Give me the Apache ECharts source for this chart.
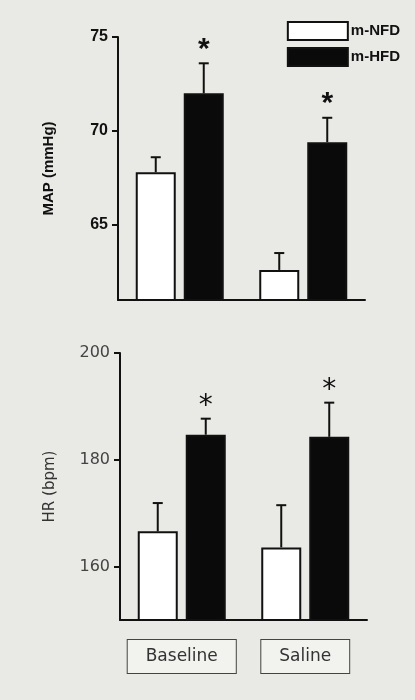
<!DOCTYPE html>
<html><head><meta charset="utf-8">
<script src="https://cdn.jsdelivr.net/npm/echarts@6/dist/echarts.min.js"></script>
<style>html,body{margin:0;background:#e9e9e5}#c{width:415px;height:700px}</style>
</head><body><div id="c"></div>
<script>
const categories = ['Baseline', 'Saline'];
const mapNFD = [67.8, 62.6];
const mapNFDErr = [68.6, 63.5];
const mapHFD = [72.0, 69.4];
const mapHFDErr = [73.6, 70.7];
const hrNFD = [166.6, 163.6];
const hrNFDErr = [171.9, 171.5];
const hrHFD = [184.7, 184.3];
const hrHFDErr = [187.7, 190.7];
const mapTicks = [65, 70, 75];
const hrTicks = [160, 180, 200];

const chart = echarts.init(document.getElementById('c'));
function errSeries(xi, yi, tops, means, off, star, starGap) {
  return {
    type: 'custom', xAxisIndex: xi, yAxisIndex: yi, z: 5,
    data: tops.map((t, i) => [i, t, means[i]]),
    renderItem: (p, api) => {
      const top = api.coord([api.value(0), api.value(1)]);
      const base = api.coord([api.value(0), api.value(2)]);
      const x = top[0] + off;
      const ch = [
        {type: 'line', shape: {x1: x, y1: top[1], x2: x, y2: base[1]}, style: {stroke: '#111', lineWidth: 2}},
        {type: 'line', shape: {x1: x - 5, y1: top[1], x2: x + 5, y2: top[1]}, style: {stroke: '#111', lineWidth: 2}}
      ];
      if (star) ch.push({type: 'text', style: {text: '*', x: x, y: top[1] - starGap, align: 'center', verticalAlign: 'middle', font: star, fill: '#111'}});
      return {type: 'group', children: ch};
    }
  };
}
const yBase = {type: 'value', splitLine: {show: false},
  axisLine: {show: true, lineStyle: {color: '#111', width: 2}}};
chart.setOption({
  animation: false,
  grid: [{left: 118, right: 50, top: 37, bottom: 400}, {left: 120, right: 48, top: 353, bottom: 80}],
  xAxis: [
    {type: 'category', gridIndex: 0, data: categories, axisTick: {show: false}, axisLabel: {show: false}, axisLine: {lineStyle: {color: '#111', width: 2}}},
    {type: 'category', gridIndex: 1, data: categories, axisTick: {show: false}, axisLine: {lineStyle: {color: '#111', width: 2}},
     axisLabel: {margin: 20, color: '#333', fontSize: 17, fontFamily: 'DejaVu Sans', borderColor: '#444', borderWidth: 1, padding: [8, 18, 8, 18], backgroundColor: '#f2f2ef'}}
  ],
  yAxis: [
    Object.assign({}, yBase, {gridIndex: 0, min: 61, max: 75, name: 'MAP (mmHg)', nameLocation: 'middle', nameGap: 62,
      nameTextStyle: {fontSize: 15, fontWeight: 'bold', color: '#111', fontFamily: 'Liberation Sans'},
      axisLabel: {customValues: mapTicks, margin: 10, fontSize: 16, fontWeight: 'bold', color: '#111', fontFamily: 'Liberation Sans'},
      axisTick: {show: true, customValues: mapTicks, length: 6, lineStyle: {color: '#111', width: 2}}}),
    Object.assign({}, yBase, {gridIndex: 1, min: 150, max: 200, name: 'HR (bpm)', nameLocation: 'middle', nameGap: 62,
      nameTextStyle: {fontSize: 15, color: '#333', fontFamily: 'DejaVu Sans'},
      axisLabel: {customValues: hrTicks, margin: 10, fontSize: 16, color: '#444', fontFamily: 'DejaVu Sans'},
      axisTick: {show: true, customValues: hrTicks, length: 6, lineStyle: {color: '#111', width: 2}}})
  ],
  legend: {right: 10, top: 16, orient: 'vertical', icon: 'rect', itemWidth: 60, itemHeight: 18, itemGap: 6,
    textStyle: {fontSize: 15, fontWeight: 'bold', color: '#111', fontFamily: 'Liberation Sans', padding: [0, 0, 0, -2]}, data: ['m-NFD', 'm-HFD']},
  series: [
    {name: 'm-NFD', type: 'bar', xAxisIndex: 0, yAxisIndex: 0, data: mapNFD, barWidth: 40, barGap: '20%', itemStyle: {color: '#fff', borderColor: '#111', borderWidth: 2}},
    {name: 'm-HFD', type: 'bar', xAxisIndex: 0, yAxisIndex: 0, data: mapHFD, barWidth: 40, barGap: '20%', itemStyle: {color: '#0a0a0a', borderColor: '#111', borderWidth: 2}},
    {name: 'm-NFD', type: 'bar', xAxisIndex: 1, yAxisIndex: 1, data: hrNFD, barWidth: 40, barGap: '20%', itemStyle: {color: '#fff', borderColor: '#111', borderWidth: 2}},
    {name: 'm-HFD', type: 'bar', xAxisIndex: 1, yAxisIndex: 1, data: hrHFD, barWidth: 40, barGap: '20%', itemStyle: {color: '#0a0a0a', borderColor: '#111', borderWidth: 2}},
    errSeries(0, 0, mapNFDErr, mapNFD, -24, null),
    errSeries(0, 0, mapHFDErr, mapHFD, 24, 'bold 30px Liberation Sans', 14),
    errSeries(1, 1, hrNFDErr, hrNFD, -24, null),
    errSeries(1, 1, hrHFDErr, hrHFD, 24, '28px DejaVu Sans', 12)
  ]
});
</script></body></html>
